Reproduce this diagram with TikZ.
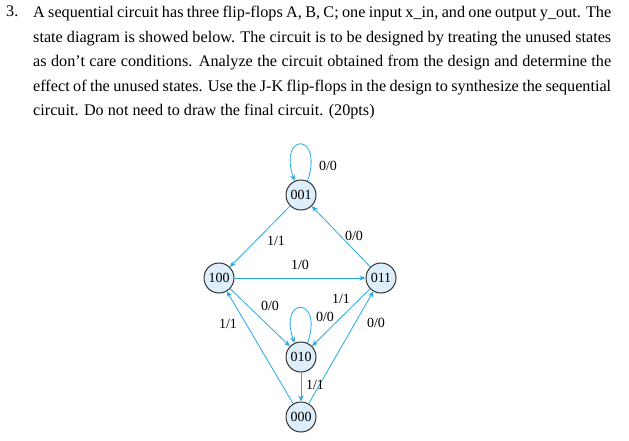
\documentclass[tikz,border=0pt]{standalone}
\usepackage{fontspec}
\setmainfont{Liberation Serif}
\usetikzlibrary{arrows.meta}
\definecolor{eblue}{RGB}{35,170,230}
\definecolor{sfill}{RGB}{222,238,250}
\begin{document}
\begin{tikzpicture}[x=1pt,y=-1pt,
  st/.style={circle,draw=black!80,line width=1pt,fill=sfill,minimum size=30pt,inner sep=0pt,font=\fontsize{14}{14}\selectfont},
  tr/.style={draw=eblue,line width=0.8pt,-{Stealth[length=6pt,width=5pt]}},
  lb/.style={font=\fontsize{14}{14}\selectfont,inner sep=1pt}]
\useasboundingbox (0,0) rectangle (629,441);
\node[anchor=north west,inner sep=0pt] (num) at (6,6) {\fontsize{16.2}{24.5}\selectfont 3.};
\node[anchor=north west,inner sep=0pt,text width=578pt,align=justify] (txt) at (33,6) {\fontsize{16.2}{24.5}\selectfont A sequential circuit has three flip-flops A, B, C; one input x\_in, and one output y\_out. The state diagram is showed below. The circuit is to be designed by treating the unused states as don’t care conditions. Analyze the circuit obtained from the design and determine the effect of the unused states. Use the J-K flip-flops in the design to synthesize the sequential circuit. Do not need to draw the final circuit. (20pts)\par};
\node[st] (s001) at (301,195) {001};
\node[st] (s100) at (219,278) {100};
\node[st] (s011) at (381,278) {011};
\node[st] (s010) at (301,357) {010};
\node[st] (s000) at (301,417) {000};
\draw[tr] (s001.65) .. controls (324,132) and (278,132) .. (s001.115) ;
\node[lb] (l1) at (328,166) {0/0};
\draw[tr] (s001) -- (s100);
\node[lb] (l2) at (276,241) {1/1};
\draw[tr] (s011) -- (s001);
\node[lb] (l3) at (354,236) {0/0};
\draw[tr] (s100) -- (s011);
\node[lb] (l4) at (300,265) {1/0};
\draw[tr] (s100) -- (s010);
\node[lb] (l5) at (270,306) {0/0};
\draw[tr] (s011) -- (s010);
\node[lb] (l6) at (341,299) {1/1};
\draw[tr] (s010.65) .. controls (324,296) and (278,296) .. (s010.115);
\node[lb] (l7) at (325,317) {0/0};
\draw[tr] (s000) -- (s100);
\node[lb] (l8) at (228,324) {1/1};
\draw[tr] (s000) -- (s011);
\node[lb] (l9) at (376,323) {0/0};
\draw[tr] (s010) -- (s000);
\node[lb] (l10) at (315,385) {1/1};
\end{tikzpicture}
\end{document}
